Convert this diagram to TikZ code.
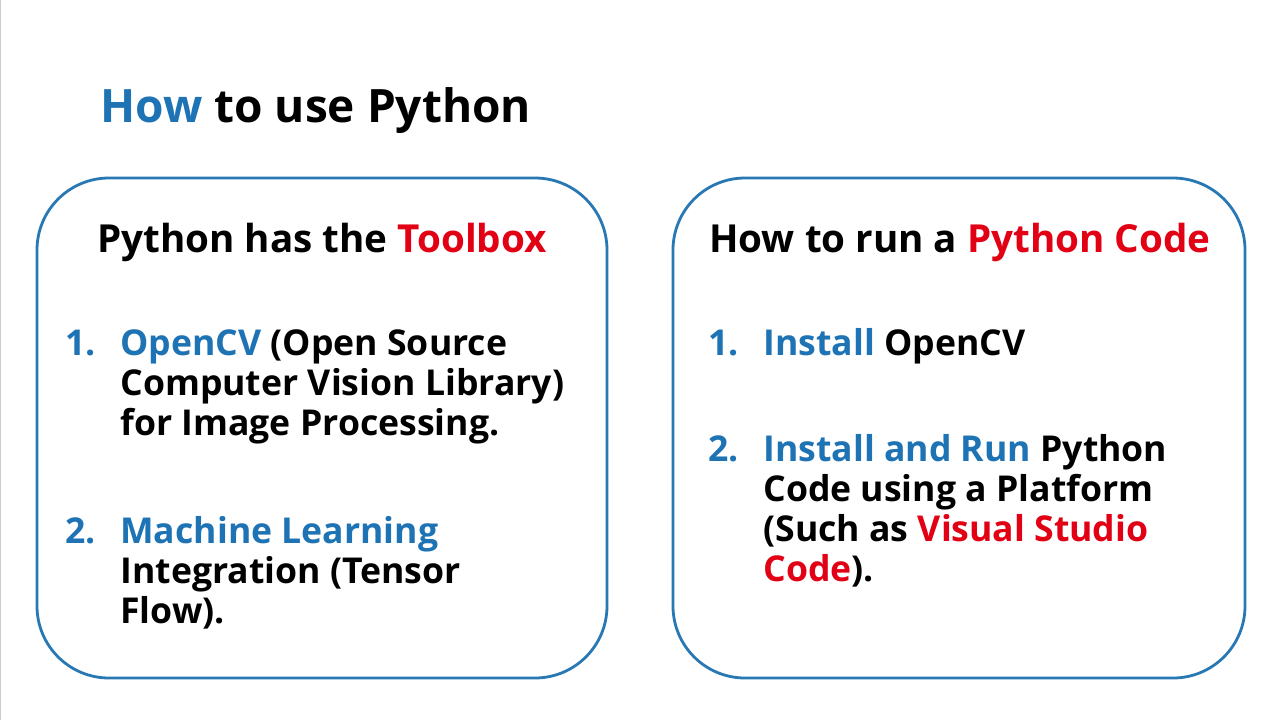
\documentclass[tikz,border=0pt]{standalone}
\usepackage{fontspec}
\setmainfont{Open Sans}
\definecolor{slideblue}{RGB}{30,115,180}
\definecolor{slidered}{RGB}{225,0,20}
\definecolor{boxblue}{RGB}{40,120,180}
\newcommand{\bl}[1]{\textcolor{slideblue}{#1}}
\newcommand{\rd}[1]{\textcolor{slidered}{#1}}
\begin{document}
\begin{tikzpicture}[x=0.5pt,y=-0.5pt,
  panel/.style={draw=boxblue,line width=1.4pt,rounded corners=36pt},
  head/.style={anchor=base,inner sep=0pt,font=\bfseries\fontsize{19.3}{22}\selectfont},
  line/.style={anchor=base west,inner sep=0pt,font=\bfseries\fontsize{17.8}{20}\selectfont},
  num/.style={line,text=slideblue}]
\useasboundingbox (0,0) rectangle (1280,720);
\fill[white] (0,0) rectangle (1280,720);
\draw[gray!40] (0,0) -- (0,720);

% title
\node[anchor=base west,inner sep=0pt,font=\bfseries\fontsize{23}{26}\selectfont] (title) at (100,122) {\bl{How} to use Python};

% panels
\draw[panel] (37,178) rectangle (607,678);
\draw[panel] (673,178) rectangle (1245,678);

% left panel
\node[head] (lhead) at (322,252) {Python has the \rd{Toolbox}};
\node[num] (la) at (65,355) {1.};
\node[line] (la1) at (120,355) {\bl{OpenCV} (Open Source};
\node[line] (la2) at (120,395) {Computer Vision Library)};
\node[line] (la3) at (120,435) {for Image Processing.};
\node[num] (lb) at (65,543) {2.};
\node[line] (lb1) at (120,543) {\bl{Machine Learning}};
\node[line] (lb2) at (120,583) {Integration (Tensor};
\node[line] (lb3) at (120,623) {Flow).};

% right panel
\node[head] (rhead) at (960,252) {How to run a \rd{Python Code}};
\node[num] (ra) at (708,355) {1.};
\node[line] (ra1) at (763,355) {\bl{Install} OpenCV};
\node[num] (rb) at (708,461) {2.};
\node[line] (rb1) at (763,461) {\bl{Install and Run} Python};
\node[line] (rb2) at (763,501) {Code using a Platform};
\node[line] (rb3) at (763,541) {(Such as \rd{Visual Studio}};
\node[line] (rb4) at (763,581) {\rd{Code}).};
\end{tikzpicture}
\end{document}
